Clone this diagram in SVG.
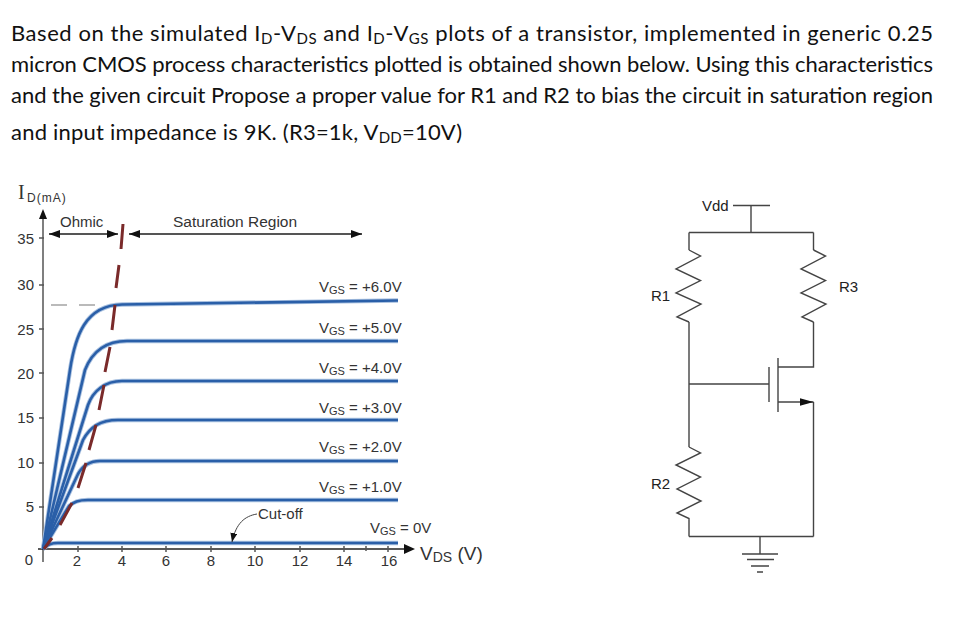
<svg xmlns="http://www.w3.org/2000/svg" width="968" height="638" viewBox="0 0 968 638">
<style>
.q{font-family:"Lato","Open Sans","Liberation Sans",sans-serif;font-size:22px;fill:#111}
.s{font-size:15px}
.l{font-family:"Liberation Sans",Arial,sans-serif;font-size:15px;fill:#333}
.t{font-family:"Liberation Sans",Arial,sans-serif;font-size:15px;fill:#333}
.c{font-family:"Liberation Sans",Arial,sans-serif;font-size:15px;fill:#222}
.ax{fill:none;stroke:#555;stroke-width:1.5}
.cv{fill:none;stroke:#2a5fa8;stroke-width:2.6}
.halo{fill:none;stroke:#a9c1e0;stroke-width:4.4}
.dash{fill:none;stroke:#7a2a2a;stroke-width:3}
.w{fill:none;stroke:#444;stroke-width:1.4}
</style>
<defs>
<marker id="a" viewBox="0 0 10 10" refX="10" refY="5" markerWidth="11" markerHeight="8" markerUnits="userSpaceOnUse" orient="auto-start-reverse" preserveAspectRatio="none"><path d="M0 0L10 5L0 10Z" fill="#111"/></marker>
<marker id="b" viewBox="0 0 10 10" refX="10" refY="5" markerWidth="9" markerHeight="7" markerUnits="userSpaceOnUse" orient="auto" preserveAspectRatio="none"><path d="M0 0L10 5L0 10Z" fill="#111"/></marker>
<marker id="m" viewBox="0 0 10 10" refX="10" refY="5" markerWidth="14" markerHeight="8" markerUnits="userSpaceOnUse" orient="auto" preserveAspectRatio="none"><path d="M0 0L10 5L0 10Z" fill="#111"/></marker>
<path id="c6" d="M43 549L70 370C75 337 85 305 122 304.500L398 300.500"/>
<path id="c5" d="M43 549L85 370C92 352 105 341 127 341H398"/>
<path id="c4" d="M43 549L88 405C93 391 105 381 122 381H398"/>
<path id="c3" d="M43 549L83 440C90 427 100 420 118 420H398"/>
<path id="c2" d="M43 549L78 474C83 465 90 461 100 461H398"/>
<path id="c1" d="M43 549L69 506C74 502 78 500 88 500H398"/>
<path id="c0" d="M43 549C48 545 50 543 58 543H398"/>
</defs>

<g id="question">
<text class="q" x="11" y="41" textLength="922">Based on the simulated I<tspan class="s" dy="3">D</tspan><tspan dy="-3">-V</tspan><tspan class="s" dy="3">DS</tspan><tspan dy="-3"> and I</tspan><tspan class="s" dy="3">D</tspan><tspan dy="-3">-V</tspan><tspan class="s" dy="3">GS</tspan><tspan dy="-3"> plots of a transistor, implemented in generic 0.25</tspan></text>
<text class="q" x="11" y="72" textLength="922">micron CMOS process characteristics plotted is obtained shown below. Using this characteristics</text>
<text class="q" x="11" y="103" textLength="922">and the given circuit Propose a proper value for R1 and R2 to bias the circuit in saturation region</text>
<text class="q" x="11" y="140" textLength="451">and input impedance is 9K. (R3=1k, V<tspan class="s" dy="3">DD</tspan><tspan dy="-3">=10V)</tspan></text>
</g>

<g id="plot">
<path class="ax" d="M43 562V212"/><path d="M43 209l-4 10h8z" fill="#111"/>
<path d="M38 549H405" stroke="#222" stroke-width="1.4" fill="none"/><path d="M415 549l-11-5v10z" fill="#111"/>
<path class="ax" d="M39 238h5M39 285h5M39 329h5M39 373h5M39 418h5M39 463h5M39 507h5M78 546v6M122 546v6M166 546v6M211 546v6M255 546v6M300 546v6M344 546v6M366 546v5M388 546v6"/>
<g class="t" text-anchor="end"><text x="34" y="244">35</text><text x="34" y="290">30</text><text x="34" y="335">25</text><text x="34" y="379">20</text><text x="34" y="423">15</text><text x="34" y="468">10</text><text x="34" y="512">5</text></g>
<g class="t" text-anchor="middle"><text x="29" y="565">0</text><text x="77" y="566">2</text><text x="122" y="566">4</text><text x="166" y="566">6</text><text x="211" y="566">8</text><text x="255" y="566">10</text><text x="300" y="566">12</text><text x="344" y="566">14</text><text x="389" y="566">16</text></g>
<text x="18" y="199" font-family="Liberation Serif,serif" font-size="20" fill="#333">I</text><text x="27" y="202" font-family="Liberation Sans,sans-serif" font-size="12" fill="#333" letter-spacing="1">D(mA)</text>
<text class="l" x="60" y="227">Ohmic</text>
<text class="l" x="173" y="227" style="font-size:15.500px">Saturation Region</text>
<path d="M49 234H118" stroke="#555" stroke-width="2" fill="none" marker-start="url(#a)" marker-end="url(#a)"/>
<path d="M129 234H362" stroke="#555" stroke-width="2" fill="none" marker-start="url(#a)" marker-end="url(#a)"/>
<path d="M51 305H98" stroke="#777" stroke-width="1.200" stroke-dasharray="16 12" fill="none"/>
<g id="curves">
<g class="halo"><use href="#c6"/><use href="#c5"/><use href="#c4"/><use href="#c3"/><use href="#c2"/><use href="#c1"/><use href="#c0"/></g>
<g class="cv"><use href="#c6"/><use href="#c5"/><use href="#c4"/><use href="#c3"/><use href="#c2"/><use href="#c1"/><use href="#c0"/></g>
</g>
<path class="dash" d="M123 224L121 249M119 265L116 288M115 305L112 330M110 347L105 372M104 385L99 410M96 425L89 450M86 463L78 488M72 503L60 525M52 538L44 549"/>
<g class="l">
<text x="319" y="292">V<tspan font-size="11" dy="2">GS</tspan><tspan dy="-2"> = +6.0V</tspan></text>
<text x="319" y="333">V<tspan font-size="11" dy="2">GS</tspan><tspan dy="-2"> = +5.0V</tspan></text>
<text x="319" y="373">V<tspan font-size="11" dy="2">GS</tspan><tspan dy="-2"> = +4.0V</tspan></text>
<text x="319" y="413">V<tspan font-size="11" dy="2">GS</tspan><tspan dy="-2"> = +3.0V</tspan></text>
<text x="319" y="452">V<tspan font-size="11" dy="2">GS</tspan><tspan dy="-2"> = +2.0V</tspan></text>
<text x="319" y="492">V<tspan font-size="11" dy="2">GS</tspan><tspan dy="-2"> = +1.0V</tspan></text>
<text x="370" y="533">V<tspan font-size="11" dy="2">GS</tspan><tspan dy="-2"> = 0V</tspan></text>
</g>
<text class="l" x="258" y="519">Cut-off</text>
<path d="M257 514C245 516 236 523 232 542" fill="none" stroke="#444" stroke-width="1" marker-end="url(#b)"/>
<text class="l" x="420" y="560" style="font-size:19px">V<tspan font-size="14" dy="2">DS</tspan><tspan dy="-2"> (V)</tspan></text>
</g>

<g id="circuit-wires">
<path class="w" d="M733 205.500H770M751 205.500V232.500M689 232.500H813.500M689 232.500V250M813.500 232.500V250M689 322V447M813.500 322V367H778M689 384H769M778 358V412M769 367V402M813.500 402V536.500M689 536.500H813.500M760 536.500V554"/>
<path d="M778 402H813.500" class="w" marker-end="url(#m)"/>
<path class="w" d="M742 554H778M747 559.500H774M751 566H769M757 572H763"/>
</g>
<g id="R1"><path class="w" d="M689 250L700.500 256L676 269L700.500 280.500L676 293L701 304L677 317L689 322"/><text class="c" x="651" y="301">R1</text></g>
<g id="R3"><path class="w" d="M813.500 250L825.500 256L801 269L825.500 280.500L801 293L826 304L802 317L813.500 322"/><text class="c" x="839" y="292">R3</text></g>
<g id="R2"><path class="w" d="M689 447L700.500 453L676 465L700.500 477L677 489L701 501L677 513L689 518.500V536.500"/><text class="c" x="651" y="489">R2</text></g>
<g id="Vdd"><text class="c" x="702" y="211">Vdd</text></g>
</svg>
